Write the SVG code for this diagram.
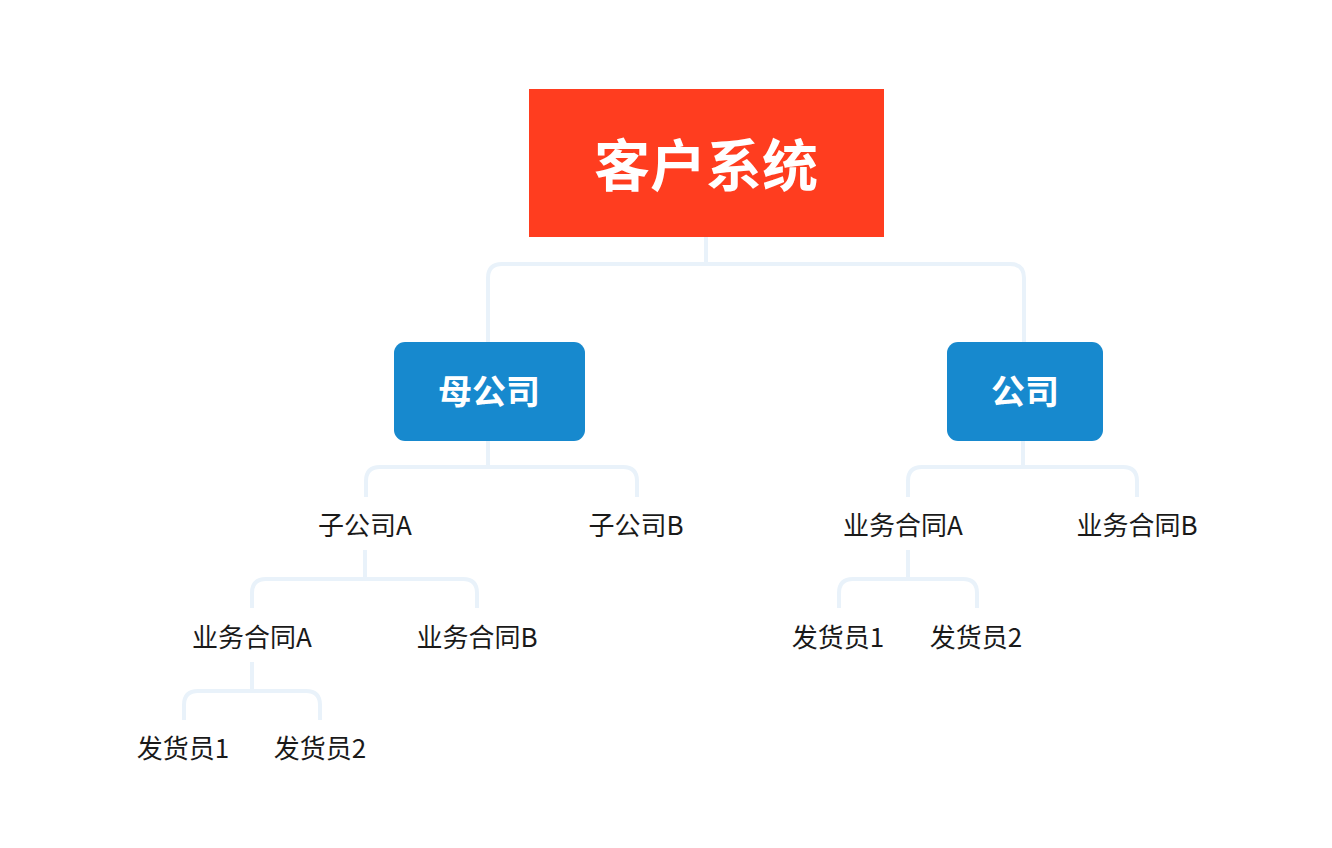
<svg xmlns="http://www.w3.org/2000/svg" width="1332" height="848" viewBox="0 0 1332 848">
<style>
.c{fill:none;stroke:#E9F2FA;stroke-width:4;stroke-linejoin:round}
.t{font-family:"Noto Sans CJK SC","Noto Sans",sans-serif;font-size:26px;fill:#1a1a1a;text-anchor:middle;dominant-baseline:central}
.w{font-family:"Noto Sans CJK SC","Noto Sans",sans-serif;fill:#fff;font-weight:bold;text-anchor:middle;dominant-baseline:central}
</style>
<rect width="1332" height="848" fill="#fff"/>
<g id="connectors">
<path class="c" d="M706 237V264M488 342V278Q488 264 502 264H1010Q1024 264 1024 278V342"/>
<path class="c" d="M488 441V467M366 497V481Q366 467 380 467H623Q637 467 637 481V497"/>
<path class="c" d="M1023 441V467M908 497V481Q908 467 922 467H1123Q1137 467 1137 481V497"/>
<path class="c" d="M365 550V579M252 608V593Q252 579 266 579H463Q477 579 477 593V608"/>
<path class="c" d="M908 550V579M839 608V593Q839 579 853 579H963Q977 579 977 593V608"/>
<path class="c" d="M252 662V691M184 720V705Q184 691 198 691H306Q320 691 320 705V720"/>
</g>
<g id="root"><rect x="529" y="89" width="355" height="148" fill="#FF3D1F"/><text class="w" x="706" y="161" font-size="56">客户系统</text></g>
<g id="n1"><rect x="394" y="342" width="191" height="99" rx="11" fill="#1789CE"/><text class="w" x="489" y="389" font-size="34">母公司</text></g>
<g id="n2"><rect x="947" y="342" width="156" height="99" rx="11" fill="#1789CE"/><text class="w" x="1025" y="389" font-size="34">公司</text></g>
<g id="n3"><text class="t" x="365" y="523">子公司A</text></g>
<g id="n4"><text class="t" x="636" y="523">子公司B</text></g>
<g id="n5"><text class="t" x="252" y="635">业务合同A</text></g>
<g id="n6"><text class="t" x="477" y="635">业务合同B</text></g>
<g id="n7"><text class="t" x="183" y="746">发货员1</text></g>
<g id="n8"><text class="t" x="320" y="746">发货员2</text></g>
<g id="n9"><text class="t" x="903" y="523">业务合同A</text></g>
<g id="n10"><text class="t" x="1137" y="523">业务合同B</text></g>
<g id="n11"><text class="t" x="838" y="635">发货员1</text></g>
<g id="n12"><text class="t" x="976" y="635">发货员2</text></g>
</svg>
